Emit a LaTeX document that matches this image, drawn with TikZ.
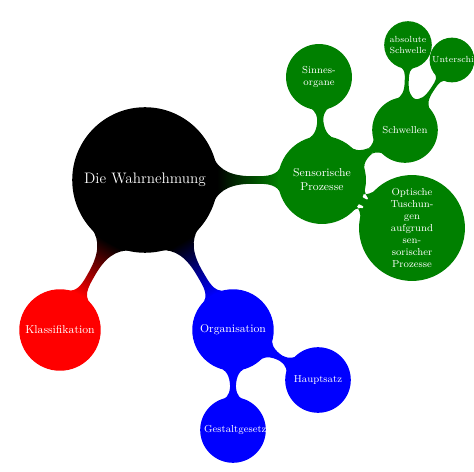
\documentclass[tikz,border=0pt]{standalone}
\usetikzlibrary{mindmap,backgrounds}
\colorlet{mmgreen}{green!50!black}
\begin{document}
\begin{tikzpicture}[mindmap, x=0.027778cm, y=-0.027778cm, text=white,
  every node/.style={concept, align=center},
  rootc/.style={concept color=black, minimum size=4cm, text width=3.5cm, font=\large},
  lone/.style={minimum size=2.22cm, text width=2cm, font=\small},
  ltwo/.style={minimum size=1.78cm, text width=1.6cm, font=\footnotesize},
  lthree/.style={minimum size=1.2cm, text width=1.1cm, font=\scriptsize},
  greenc/.style={concept color=mmgreen},
  redc/.style={concept color=red},
  bluec/.style={concept color=blue}]
\useasboundingbox (0,0) rectangle (474,472);
\clip (0,0) rectangle (474,472);
\node[rootc] (root) at (145,180) {Die Wahrnehmung};
\node[lone, greenc, minimum size=2.4cm] (sens) at (322,180) {Sensorische\\Prozesse};
\node[lone, redc] (klass) at (60,330) {Klassifikation};
\node[lone, bluec] (orga) at (233,330) {Organisation};
\node[ltwo, greenc] (sinn) at (319,77) {Sinnes-\\organe};
\node[ltwo, greenc] (schw) at (405,130) {Schwellen};
\node[ltwo, greenc, minimum size=2.9cm] (opt) at (412,228) {Optische\\Tuschun-\\gen\\aufgrund\\sen-\\sorischer\\Prozesse};
\node[lthree, greenc] (abs) at (408,45) {absolute\\Schwelle};
\node[lthree, greenc] (unt) at (452,60) {Unterschiedsschwelle};
\node[ltwo, bluec] (haupt) at (318,380) {Hauptsatz};
\node[ltwo, bluec] (gest) at (233,430) {Gestaltgesetze};
\begin{scope}[on background layer]
\path (root) to[circle connection bar switch color=from (black) to (mmgreen)] (sens);
\path (root) to[circle connection bar switch color=from (black) to (red)] (klass);
\path (root) to[circle connection bar switch color=from (black) to (blue)] (orga);
\path (sens) to[circle connection bar switch color=from (mmgreen) to (mmgreen)] (sinn);
\path (sens) to[circle connection bar switch color=from (mmgreen) to (mmgreen)] (schw);
\path (sens) to[circle connection bar switch color=from (mmgreen) to (mmgreen)] (opt);
\path (schw) to[circle connection bar switch color=from (mmgreen) to (mmgreen)] (abs);
\path (schw) to[circle connection bar switch color=from (mmgreen) to (mmgreen)] (unt);
\path (orga) to[circle connection bar switch color=from (blue) to (blue)] (haupt);
\path (orga) to[circle connection bar switch color=from (blue) to (blue)] (gest);
\end{scope}
\end{tikzpicture}
\end{document}
